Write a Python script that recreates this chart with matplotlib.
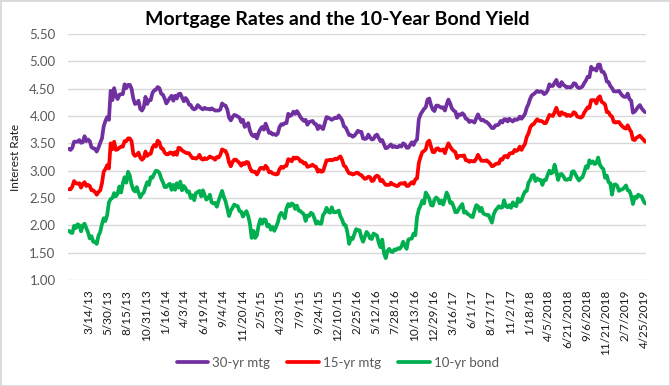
import matplotlib
matplotlib.use("Agg")
import matplotlib.pyplot as plt
import matplotlib.transforms as mtransforms
from matplotlib.patches import Rectangle
import numpy as np

# weekly Freddie Mac rates, 1/10/2013 .. 5/16/2019
mtg30 = [
    # 2013
    3.40, 3.38, 3.42, 3.53, 3.53, 3.53, 3.56, 3.51, 3.52, 3.63, 3.54, 3.57, 3.54, 3.43, 3.41, 3.40, 3.35,
    3.42, 3.51, 3.59, 3.81, 3.91, 3.98, 3.93, 4.46, 4.29, 4.51, 4.37, 4.31, 4.39, 4.40, 4.40, 4.58, 4.51,
    4.57, 4.57, 4.50, 4.32, 4.22, 4.23, 4.28, 4.13, 4.10, 4.16, 4.35, 4.22, 4.29, 4.29, 4.42, 4.47, 4.48,
    # 2014
    4.53, 4.51, 4.41, 4.39, 4.32, 4.23, 4.28, 4.33, 4.37, 4.28, 4.37, 4.32, 4.40, 4.41, 4.34, 4.27, 4.33,
    4.29, 4.21, 4.20, 4.14, 4.12, 4.14, 4.20, 4.17, 4.14, 4.12, 4.15, 4.13, 4.13, 4.12, 4.14, 4.12, 4.10,
    4.10, 4.10, 4.12, 4.23, 4.20, 4.19, 4.12, 3.97, 3.92, 3.98, 4.02, 4.01, 3.99, 3.97, 3.89, 3.93, 3.80,
    3.83, 3.87,
    # 2015
    3.73, 3.66, 3.63, 3.66, 3.59, 3.69, 3.76, 3.80, 3.75, 3.86, 3.78, 3.69, 3.70, 3.66, 3.67, 3.65, 3.68,
    3.80, 3.85, 3.84, 3.87, 3.87, 4.04, 4.00, 4.02, 4.08, 4.04, 4.09, 4.04, 3.98, 3.94, 3.91, 3.93, 3.84,
    3.89, 3.90, 3.91, 3.86, 3.85, 3.76, 3.82, 3.79, 3.76, 3.87, 3.98, 3.97, 3.95, 3.93, 3.95, 3.97, 3.96,
    4.01,
    # 2016
    3.97, 3.92, 3.81, 3.79, 3.72, 3.65, 3.65, 3.62, 3.64, 3.68, 3.73, 3.71, 3.71, 3.59, 3.58, 3.59, 3.66,
    3.61, 3.57, 3.58, 3.64, 3.66, 3.60, 3.54, 3.56, 3.48, 3.41, 3.42, 3.45, 3.48, 3.43, 3.45, 3.43, 3.43,
    3.46, 3.44, 3.50, 3.48, 3.42, 3.42, 3.47, 3.52, 3.47, 3.54, 3.57, 3.94, 4.03, 4.08, 4.13, 4.16, 4.30,
    4.32,
    # 2017
    4.20, 4.12, 4.09, 4.19, 4.19, 4.17, 4.15, 4.16, 4.10, 4.21, 4.30, 4.23, 4.14, 4.10, 4.08, 3.97, 4.03,
    4.02, 4.05, 4.02, 3.95, 3.94, 3.89, 3.91, 3.90, 3.88, 3.96, 4.03, 3.96, 3.92, 3.93, 3.90, 3.89, 3.86,
    3.82, 3.78, 3.78, 3.83, 3.83, 3.85, 3.91, 3.88, 3.94, 3.94, 3.90, 3.95, 3.92, 3.90, 3.94, 3.93, 3.94,
    3.99,
    # 2018
    3.95, 3.99, 4.04, 4.15, 4.22, 4.32, 4.38, 4.40, 4.43, 4.46, 4.44, 4.45, 4.44, 4.40, 4.42, 4.47, 4.58,
    4.55, 4.55, 4.61, 4.66, 4.56, 4.54, 4.62, 4.57, 4.55, 4.52, 4.53, 4.52, 4.54, 4.60, 4.59, 4.53, 4.51,
    4.52, 4.54, 4.60, 4.65, 4.72, 4.71, 4.90, 4.85, 4.86, 4.83, 4.94, 4.94, 4.81, 4.81, 4.75, 4.63, 4.62,
    4.55,
    # 2019
    4.51, 4.45, 4.45, 4.45, 4.46, 4.41, 4.37, 4.35, 4.35, 4.41, 4.31, 4.28, 4.06, 4.08, 4.12, 4.17, 4.20,
    4.14, 4.10, 4.07,
]

mtg15 = [
    # 2013
    2.66, 2.66, 2.71, 2.81, 2.77, 2.76, 2.77, 2.69, 2.76, 2.79, 2.72, 2.74, 2.72, 2.64, 2.64, 2.61, 2.56,
    2.61, 2.64, 2.77, 2.98, 3.03, 3.10, 3.04, 3.50, 3.39, 3.53, 3.38, 3.39, 3.42, 3.44, 3.44, 3.54, 3.54,
    3.59, 3.59, 3.54, 3.31, 3.27, 3.29, 3.33, 3.24, 3.20, 3.23, 3.35, 3.27, 3.30, 3.31, 3.42, 3.47, 3.44,
    # 2014
    3.55, 3.52, 3.41, 3.40, 3.33, 3.30, 3.30, 3.33, 3.33, 3.29, 3.34, 3.29, 3.42, 3.41, 3.37, 3.35, 3.33,
    3.32, 3.32, 3.27, 3.23, 3.23, 3.22, 3.24, 3.29, 3.22, 3.20, 3.23, 3.21, 3.23, 3.26, 3.24, 3.23, 3.20,
    3.25, 3.24, 3.29, 3.39, 3.37, 3.36, 3.29, 3.15, 3.08, 3.16, 3.20, 3.20, 3.17, 3.14, 3.09, 3.14, 3.12,
    3.16, 3.15,
    # 2015
    3.05, 2.99, 2.98, 2.98, 2.93, 2.99, 3.05, 3.05, 3.03, 3.09, 3.05, 2.97, 2.98, 2.95, 2.94, 2.93, 2.94,
    3.03, 3.07, 3.05, 3.08, 3.09, 3.21, 3.20, 3.17, 3.24, 3.22, 3.24, 3.22, 3.17, 3.17, 3.13, 3.14, 3.07,
    3.08, 3.09, 3.11, 3.08, 3.07, 2.98, 3.01, 2.98, 2.99, 3.09, 3.19, 3.19, 3.20, 3.19, 3.20, 3.22, 3.21,
    3.24,
    # 2016
    3.26, 3.19, 3.09, 3.07, 3.00, 2.95, 2.95, 2.93, 2.94, 2.96, 2.96, 2.93, 2.92, 2.88, 2.85, 2.86, 2.89,
    2.88, 2.81, 2.82, 2.89, 2.91, 2.89, 2.81, 2.83, 2.78, 2.74, 2.74, 2.74, 2.78, 2.75, 2.74, 2.72, 2.72,
    2.76, 2.77, 2.76, 2.78, 2.72, 2.72, 2.76, 2.79, 2.76, 2.84, 2.86, 3.14, 3.25, 3.34, 3.36, 3.39, 3.52,
    3.55,
    # 2017
    3.44, 3.34, 3.34, 3.40, 3.41, 3.37, 3.37, 3.39, 3.32, 3.42, 3.50, 3.44, 3.39, 3.36, 3.34, 3.23, 3.27,
    3.27, 3.27, 3.28, 3.19, 3.19, 3.16, 3.18, 3.17, 3.17, 3.22, 3.29, 3.23, 3.18, 3.18, 3.18, 3.19, 3.16,
    3.13, 3.08, 3.09, 3.12, 3.13, 3.13, 3.21, 3.20, 3.26, 3.27, 3.24, 3.31, 3.32, 3.32, 3.38, 3.36, 3.38,
    3.44,
    # 2018
    3.38, 3.44, 3.49, 3.62, 3.68, 3.79, 3.84, 3.85, 3.90, 3.94, 3.91, 3.91, 3.90, 3.87, 3.87, 3.94, 4.02,
    4.01, 4.00, 4.07, 4.15, 4.06, 4.01, 4.07, 4.04, 4.04, 4.00, 4.02, 4.00, 4.02, 4.07, 4.05, 3.99, 3.98,
    3.97, 3.99, 4.06, 4.11, 4.16, 4.15, 4.29, 4.29, 4.29, 4.23, 4.33, 4.36, 4.26, 4.24, 4.21, 4.07, 4.07,
    4.01,
    # 2019
    3.99, 3.89, 3.88, 3.89, 3.89, 3.84, 3.81, 3.78, 3.77, 3.83, 3.76, 3.71, 3.57, 3.56, 3.60, 3.62, 3.64,
    3.60, 3.57, 3.53,
]

bond10 = [
    # 2013
    1.90, 1.87, 1.86, 1.99, 1.95, 2.02, 2.00, 1.89, 2.00, 2.03, 1.95, 1.87, 1.76, 1.80, 1.70, 1.70, 1.66,
    1.81, 1.88, 2.02, 2.13, 2.08, 2.19, 2.42, 2.48, 2.50, 2.59, 2.53, 2.58, 2.71, 2.60, 2.77, 2.88, 2.78,
    2.98, 2.91, 2.75, 2.65, 2.62, 2.70, 2.60, 2.51, 2.57, 2.60, 2.70, 2.79, 2.74, 2.88, 2.87, 2.94, 3.00,
    # 2014
    2.99, 2.96, 2.86, 2.79, 2.70, 2.70, 2.74, 2.76, 2.65, 2.74, 2.65, 2.77, 2.69, 2.80, 2.64, 2.72, 2.68,
    2.61, 2.62, 2.50, 2.55, 2.46, 2.59, 2.61, 2.63, 2.53, 2.64, 2.55, 2.47, 2.50, 2.56, 2.42, 2.40, 2.41,
    2.34, 2.45, 2.54, 2.63, 2.52, 2.44, 2.31, 2.17, 2.27, 2.32, 2.38, 2.36, 2.35, 2.26, 2.25, 2.16, 2.22,
    2.26, 2.17,
    # 2015
    2.03, 1.77, 1.90, 1.77, 1.82, 2.00, 2.11, 2.03, 2.11, 2.10, 1.98, 2.01, 1.92, 1.97, 1.90, 1.97, 2.05,
    2.18, 2.23, 2.19, 2.13, 2.31, 2.39, 2.35, 2.40, 2.38, 2.30, 2.36, 2.27, 2.26, 2.23, 2.20, 2.08, 2.18,
    2.17, 2.23, 2.21, 2.13, 2.03, 2.07, 2.03, 2.03, 2.19, 2.23, 2.32, 2.25, 2.23, 2.33, 2.24, 2.24, 2.25,
    2.27,
    # 2016
    2.16, 2.10, 2.01, 2.00, 1.87, 1.66, 1.77, 1.75, 1.84, 1.93, 1.91, 1.91, 1.78, 1.70, 1.79, 1.88, 1.84,
    1.76, 1.75, 1.85, 1.83, 1.81, 1.68, 1.60, 1.74, 1.49, 1.40, 1.53, 1.57, 1.52, 1.51, 1.56, 1.55, 1.58,
    1.57, 1.61, 1.70, 1.63, 1.57, 1.74, 1.75, 1.76, 1.85, 1.82, 2.15, 2.29, 2.36, 2.45, 2.40, 2.60, 2.55,
    2.49,
    # 2017
    2.37, 2.36, 2.47, 2.51, 2.48, 2.40, 2.45, 2.38, 2.48, 2.60, 2.53, 2.41, 2.42, 2.34, 2.24, 2.24, 2.30,
    2.35, 2.39, 2.23, 2.25, 2.21, 2.19, 2.16, 2.15, 2.27, 2.37, 2.35, 2.26, 2.32, 2.22, 2.20, 2.19, 2.19,
    2.12, 2.05, 2.20, 2.27, 2.31, 2.35, 2.32, 2.33, 2.46, 2.35, 2.33, 2.37, 2.32, 2.42, 2.37, 2.35, 2.49,
    2.43,
    # 2018
    2.46, 2.55, 2.62, 2.63, 2.78, 2.83, 2.91, 2.92, 2.81, 2.86, 2.83, 2.83, 2.74, 2.83, 2.83, 2.92, 3.00,
    2.95, 2.97, 3.11, 2.98, 2.83, 2.93, 2.94, 2.90, 2.84, 2.83, 2.85, 2.84, 2.98, 2.99, 2.93, 2.87, 2.82,
    2.86, 2.88, 2.97, 3.08, 3.05, 3.19, 3.14, 3.17, 3.12, 3.14, 3.24, 3.11, 3.06, 3.03, 2.87, 2.91, 2.79,
    2.77,
    # 2019
    2.56, 2.74, 2.75, 2.72, 2.63, 2.65, 2.66, 2.69, 2.73, 2.64, 2.63, 2.54, 2.39, 2.52, 2.50, 2.56, 2.54,
    2.53, 2.45, 2.40,
]

tick_labels = ["3/14/13", "5/30/13", "8/15/13", "10/31/13", "1/16/14", "4/3/14", "6/19/14", "9/4/14",
               "11/20/14", "2/5/15", "4/23/15", "7/9/15", "9/24/15", "12/10/15", "2/25/16", "5/12/16",
               "7/28/16", "10/13/16", "12/29/16", "3/16/17", "6/1/17", "8/17/17", "11/2/17", "1/18/18",
               "4/5/2018", "6/21/2018", "9/6/2018", "11/21/2018", "2/7/2019", "4/25/2019"]

series = [("30-yr mtg", mtg30, "#7030A0"),
          ("15-yr mtg", mtg15, "#FF0000"),
          ("10-yr bond", bond10, "#00B050")]

plt.rcParams["font.family"] = ["Lato", "DejaVu Sans"]

fig = plt.figure(figsize=(6.7, 3.86), dpi=100)
ax = fig.add_axes([68/670, 1-280/386, (646-68)/670, (280-34)/386])

n = len(mtg30)
x = np.arange(n)
for name, vals, col in series:
    ax.plot(x, vals, color=col, lw=2.7, label=name, solid_joinstyle="round", solid_capstyle="round")

ax.set_xlim(-0.5, n-0.5)
ax.set_ylim(1.0, 5.5)
ax.set_yticks(np.arange(1.0, 5.51, 0.5))
ax.set_yticklabels([f"{v:.2f}" for v in np.arange(1.0, 5.51, 0.5)])
ax.yaxis.grid(True, color="#D9D9D9", lw=1.0)
ax.set_axisbelow(True)
for s in ax.spines.values():
    s.set_visible(False)
ax.tick_params(axis="y", length=0, labelsize=9.5, labelcolor="#595959", pad=9)

ax.set_xticks([9 + 11*j for j in range(len(tick_labels))])
ax.set_xticklabels(tick_labels, rotation=90)
ax.tick_params(axis="x", length=0, labelsize=8.5, labelcolor="#1a1a1a", pad=7)
off = mtransforms.ScaledTranslation(0.044, 0, fig.dpi_scale_trans)
for lab in ax.get_xticklabels():
    lab.set_transform(lab.get_transform() + off)

ax.set_ylabel("Interest Rate", fontsize=8.5, color="#1a1a1a", labelpad=6)

fig.text(0.503, 1-20/386, "Mortgage Rates and the 10-Year Bond Yield", ha="center", va="center",
         fontsize=14, fontweight="bold", color="#000000")

fig.legend(loc="center", bbox_to_anchor=(0.504, 1-363/386), ncol=3, frameon=False,
           fontsize=9.5, labelcolor="#595959", handlelength=2.4, handletextpad=0.3,
           columnspacing=1.3)

fig.patches.append(Rectangle((0, 0), 1, 1, transform=fig.transFigure, fill=False,
                             edgecolor="#D9D9D9", lw=2))

fig.savefig("out.png", dpi=100)
